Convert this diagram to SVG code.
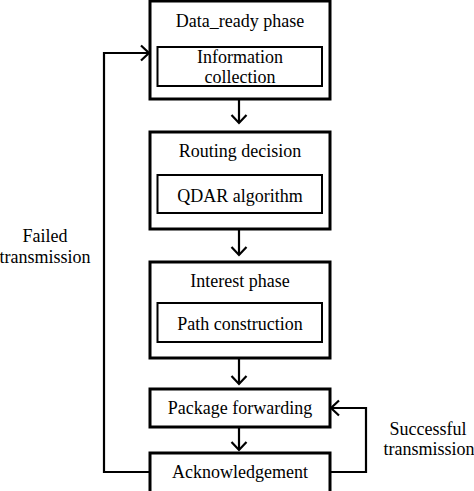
<svg xmlns="http://www.w3.org/2000/svg" width="474" height="491" viewBox="0 0 474 491">
<style>
.outer{fill:#fff;stroke:#000;stroke-width:3}
.inner{fill:#fff;stroke:#000;stroke-width:2}
text{font-family:'Liberation Serif','DejaVu Serif',serif;font-size:18px;fill:#000;text-anchor:middle}
.c{fill:none;stroke:#000;stroke-width:2.2}
</style>
<defs>
<marker id="arr" markerUnits="userSpaceOnUse" markerWidth="20" markerHeight="20" viewBox="-10 -10 20 20" refX="0" refY="0" orient="auto" overflow="visible">
<path d="M-8,-7.5 L0,0 L-8,7.5" fill="none" stroke="#000" stroke-width="2.2"/>
</marker>
</defs>
<rect width="474" height="491" fill="#fff"/>
<g id="node-data-ready">
<rect class="outer" x="150" y="1" width="180" height="98"/>
<text x="240" y="27">Data_ready phase</text>
<rect class="inner" x="157.5" y="47" width="164.5" height="39"/>
<text x="240" y="63">Information</text>
<text x="240" y="82.5">collection</text>
</g>
<g id="node-routing">
<rect class="outer" x="150" y="132" width="180" height="97"/>
<text x="240" y="157">Routing decision</text>
<rect class="inner" x="157.5" y="175" width="164.5" height="38"/>
<text x="240" y="202">QDAR algorithm</text>
</g>
<g id="node-interest">
<rect class="outer" x="150" y="262" width="180" height="96"/>
<text x="240" y="287">Interest phase</text>
<rect class="inner" x="157.5" y="303" width="164.5" height="39"/>
<text x="240" y="330">Path construction</text>
</g>
<g id="node-package">
<rect class="outer" x="150" y="389" width="180" height="38"/>
<text x="240" y="414">Package forwarding</text>
</g>
<g id="node-ack">
<rect class="outer" x="150" y="453" width="180" height="50"/>
<text x="240" y="478">Acknowledgement</text>
</g>
<g id="connectors">
<path class="c" d="M239,99 V123" marker-end="url(#arr)"/>
<path class="c" d="M239,229 V255" marker-end="url(#arr)"/>
<path class="c" d="M239,358 V384" marker-end="url(#arr)"/>
<path class="c" d="M239,427 V450" marker-end="url(#arr)"/>
<path class="c" d="M150,472 H104 V53 H149" marker-end="url(#arr)"/>
<path class="c" d="M330,472 H366 V408 H331" marker-end="url(#arr)"/>
</g>
<g id="labels">
<text x="45" y="242">Failed</text>
<text x="45" y="263">transmission</text>
<text x="428" y="435">Successful</text>
<text x="429" y="455">transmission</text>
</g>
</svg>
